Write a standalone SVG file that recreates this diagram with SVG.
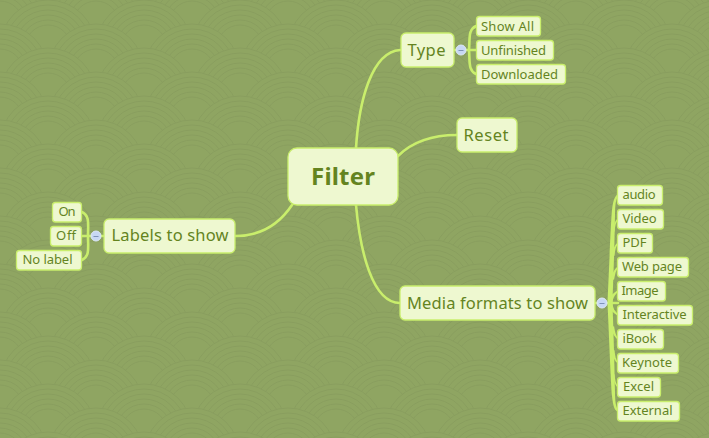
<svg xmlns="http://www.w3.org/2000/svg" width="709" height="438" viewBox="0 0 709 438">
<style>
.n{fill:#eef8d0;stroke:#c9ee6c;stroke-width:1.3}
text{font-family:"Noto Sans","Open Sans",sans-serif;fill:#64841f;text-anchor:middle}
.s{font-size:13px}.m{font-size:16.5px}
.c{fill:none;stroke:#c9ee6c;stroke-width:2.6;stroke-linecap:round}
.f{fill:#c9ee6c;stroke:none}
.b circle{fill:#c8d8f4;stroke:#dde8f8;stroke-width:1}
.b path{stroke:#7f93b8;stroke-width:1;fill:none}
.r{fill:#8fa562;stroke:#899e5e;stroke-width:1}
</style>
<defs>
<g id="sc"><circle class="r" r="48"/><circle class="r" r="43"/><circle class="r" r="38"/><circle class="r" r="33"/><circle class="r" r="28"/><circle class="r" r="23"/></g>
<pattern id="w" width="96" height="48" patternUnits="userSpaceOnUse">
<rect width="96" height="48" fill="#8fa562"/>
<use href="#sc" x="48" y="0"/>
<use href="#sc" x="0" y="24"/><use href="#sc" x="96" y="24"/>
<use href="#sc" x="48" y="48"/>
<use href="#sc" x="0" y="72"/><use href="#sc" x="96" y="72"/>
<use href="#sc" x="48" y="96"/>
</pattern>
</defs>
<rect width="709" height="438" fill="url(#w)"/>
<g id="connectors">
<path class="c" d="M356 148C359 100 372 52 400 50"/>
<path class="c" d="M398 156C412 142 430 135 457 135"/>
<path class="c" d="M356 205C360 250 372 303 400 303"/>
<path class="c" d="M292 205C278 226 260 236 235 236"/>
<path class="c" d="M455 50H476M476 26C468 30 470 38 469 50C470 62 468 70 476 74"/>
<path class="c" d="M103 236H82M82 212C90 216 88 224 88 236C88 248 90 256 82 260"/>
<path class="c" d="M596 303H618"/>
<path class="f" d="M607.500 303C609 270 611 220 612 210C613 200 615 196 618 194L618 197C616 199 615 204 615 215C614.500 250 613 285 612.500 303C613 320 614.500 355 615 392C615 402 616 407 618 410L618 412C614 410 613 405 612 396C611 385 609 335 607.500 303Z"/>
<path class="f" d="M613 230C614 224 615 221 618 218L618 220C616 222 615 226 614.500 232Z"/>
<path class="f" d="M612.500 254C613 248 615 245 618 242L618 244C616 246 615 250 614.500 256Z"/>
<path class="f" d="M611.500 278C612.500 272 615 269 618 266L618 268C616 270 615 274 614 280Z"/>
<path class="f" d="M609 298C611 295 614 293 618 290L618 292C615 295 613 297 612.500 303Z"/>
<path class="f" d="M609 308C611 311 614 313 618 316L618 314C615 311 613 309 612.500 303Z"/>
<path class="f" d="M611.500 328C612.500 334 615 337 618 340L618 338C616 336 615 332 614 326Z"/>
<path class="f" d="M612.500 352C613 358 615 361 618 364L618 362C616 360 615 356 614.500 350Z"/>
<path class="f" d="M613 376C614 382 615 385 618 388L618 386C616 384 615 380 614.500 374Z"/>
</g>
<g id="filter"><rect class="n" x="288" y="148" width="110" height="57" rx="9"/><text x="343" y="185" font-size="24" font-weight="700" textLength="64">Filter</text></g>
<g id="type"><rect class="n" x="401" y="33" width="53" height="34" rx="5"/><text class="m" x="426.500" y="56" textLength="38">Type</text></g>
<g id="reset"><rect class="n" x="457" y="118" width="60" height="34" rx="5"/><text class="m" x="486" y="141" textLength="45">Reset</text></g>
<g id="media"><rect class="n" x="400" y="286" width="195" height="34" rx="5"/><text class="m" x="497.500" y="309" textLength="181">Media formats to show</text></g>
<g id="labels"><rect class="n" x="104" y="219" width="131" height="34" rx="5"/><text class="m" x="170" y="241" textLength="117">Labels to show</text></g>
<g id="show-all"><rect class="n" x="476.500" y="16.500" width="64" height="19.500" rx="3"/><text class="s" x="507.500" y="31" textLength="53">Show All</text></g>
<g id="unfinished"><rect class="n" x="476.500" y="40.500" width="77" height="19.500" rx="3"/><text class="s" x="513.500" y="55" textLength="65">Unfinished</text></g>
<g id="downloaded"><rect class="n" x="476.500" y="64.500" width="89" height="19.500" rx="3"/><text class="s" x="519.500" y="79" textLength="77">Downloaded</text></g>
<g id="on"><rect class="n" x="52.500" y="202.500" width="29" height="19.500" rx="3"/><text class="s" x="67" y="216" textLength="17">On</text></g>
<g id="off"><rect class="n" x="50.500" y="226.500" width="31" height="19.500" rx="3"/><text class="s" x="66" y="240" textLength="20">Off</text></g>
<g id="no-label"><rect class="n" x="16.500" y="250.500" width="65" height="19.500" rx="3"/><text class="s" x="47.500" y="264" textLength="50">No label</text></g>
<g id="audio"><rect class="n" x="617.500" y="185.500" width="45" height="19.500" rx="3"/><text class="s" x="639" y="199" textLength="33">audio</text></g>
<g id="video"><rect class="n" x="617.500" y="209.500" width="46" height="19.500" rx="3"/><text class="s" x="639.500" y="223" textLength="34">Video</text></g>
<g id="pdf"><rect class="n" x="617.500" y="233.500" width="35" height="19.500" rx="3"/><text class="s" x="634.500" y="247" textLength="24">PDF</text></g>
<g id="web-page"><rect class="n" x="617.500" y="257.500" width="71" height="19.500" rx="3"/><text class="s" x="652" y="271" textLength="60">Web page</text></g>
<g id="image"><rect class="n" x="617.500" y="281.500" width="48" height="19.500" rx="3"/><text class="s" x="640" y="295" textLength="37">Image</text></g>
<g id="interactive"><rect class="n" x="617.500" y="305.500" width="75" height="19.500" rx="3"/><text class="s" x="654.500" y="319" textLength="64">Interactive</text></g>
<g id="ibook"><rect class="n" x="617.500" y="329.500" width="46" height="19.500" rx="3"/><text class="s" x="639.500" y="343" textLength="34">iBook</text></g>
<g id="keynote"><rect class="n" x="617.500" y="353.500" width="61" height="19.500" rx="3"/><text class="s" x="647" y="367" textLength="50">Keynote</text></g>
<g id="excel"><rect class="n" x="617.500" y="377.500" width="43" height="19.500" rx="3"/><text class="s" x="638.500" y="391" textLength="31">Excel</text></g>
<g id="external"><rect class="n" x="617.500" y="401.500" width="62" height="19.500" rx="3"/><text class="s" x="647.500" y="415" textLength="50">External</text></g>
<g id="toggle-type" class="b"><circle cx="461" cy="50" r="5"/><path d="M458.500 50.500h5"/></g>
<g id="toggle-labels" class="b"><circle cx="96" cy="236" r="5"/><path d="M93.500 236.500h5"/></g>
<g id="toggle-media" class="b"><circle cx="602" cy="303" r="5"/><path d="M599.500 303.500h5"/></g>
</svg>
